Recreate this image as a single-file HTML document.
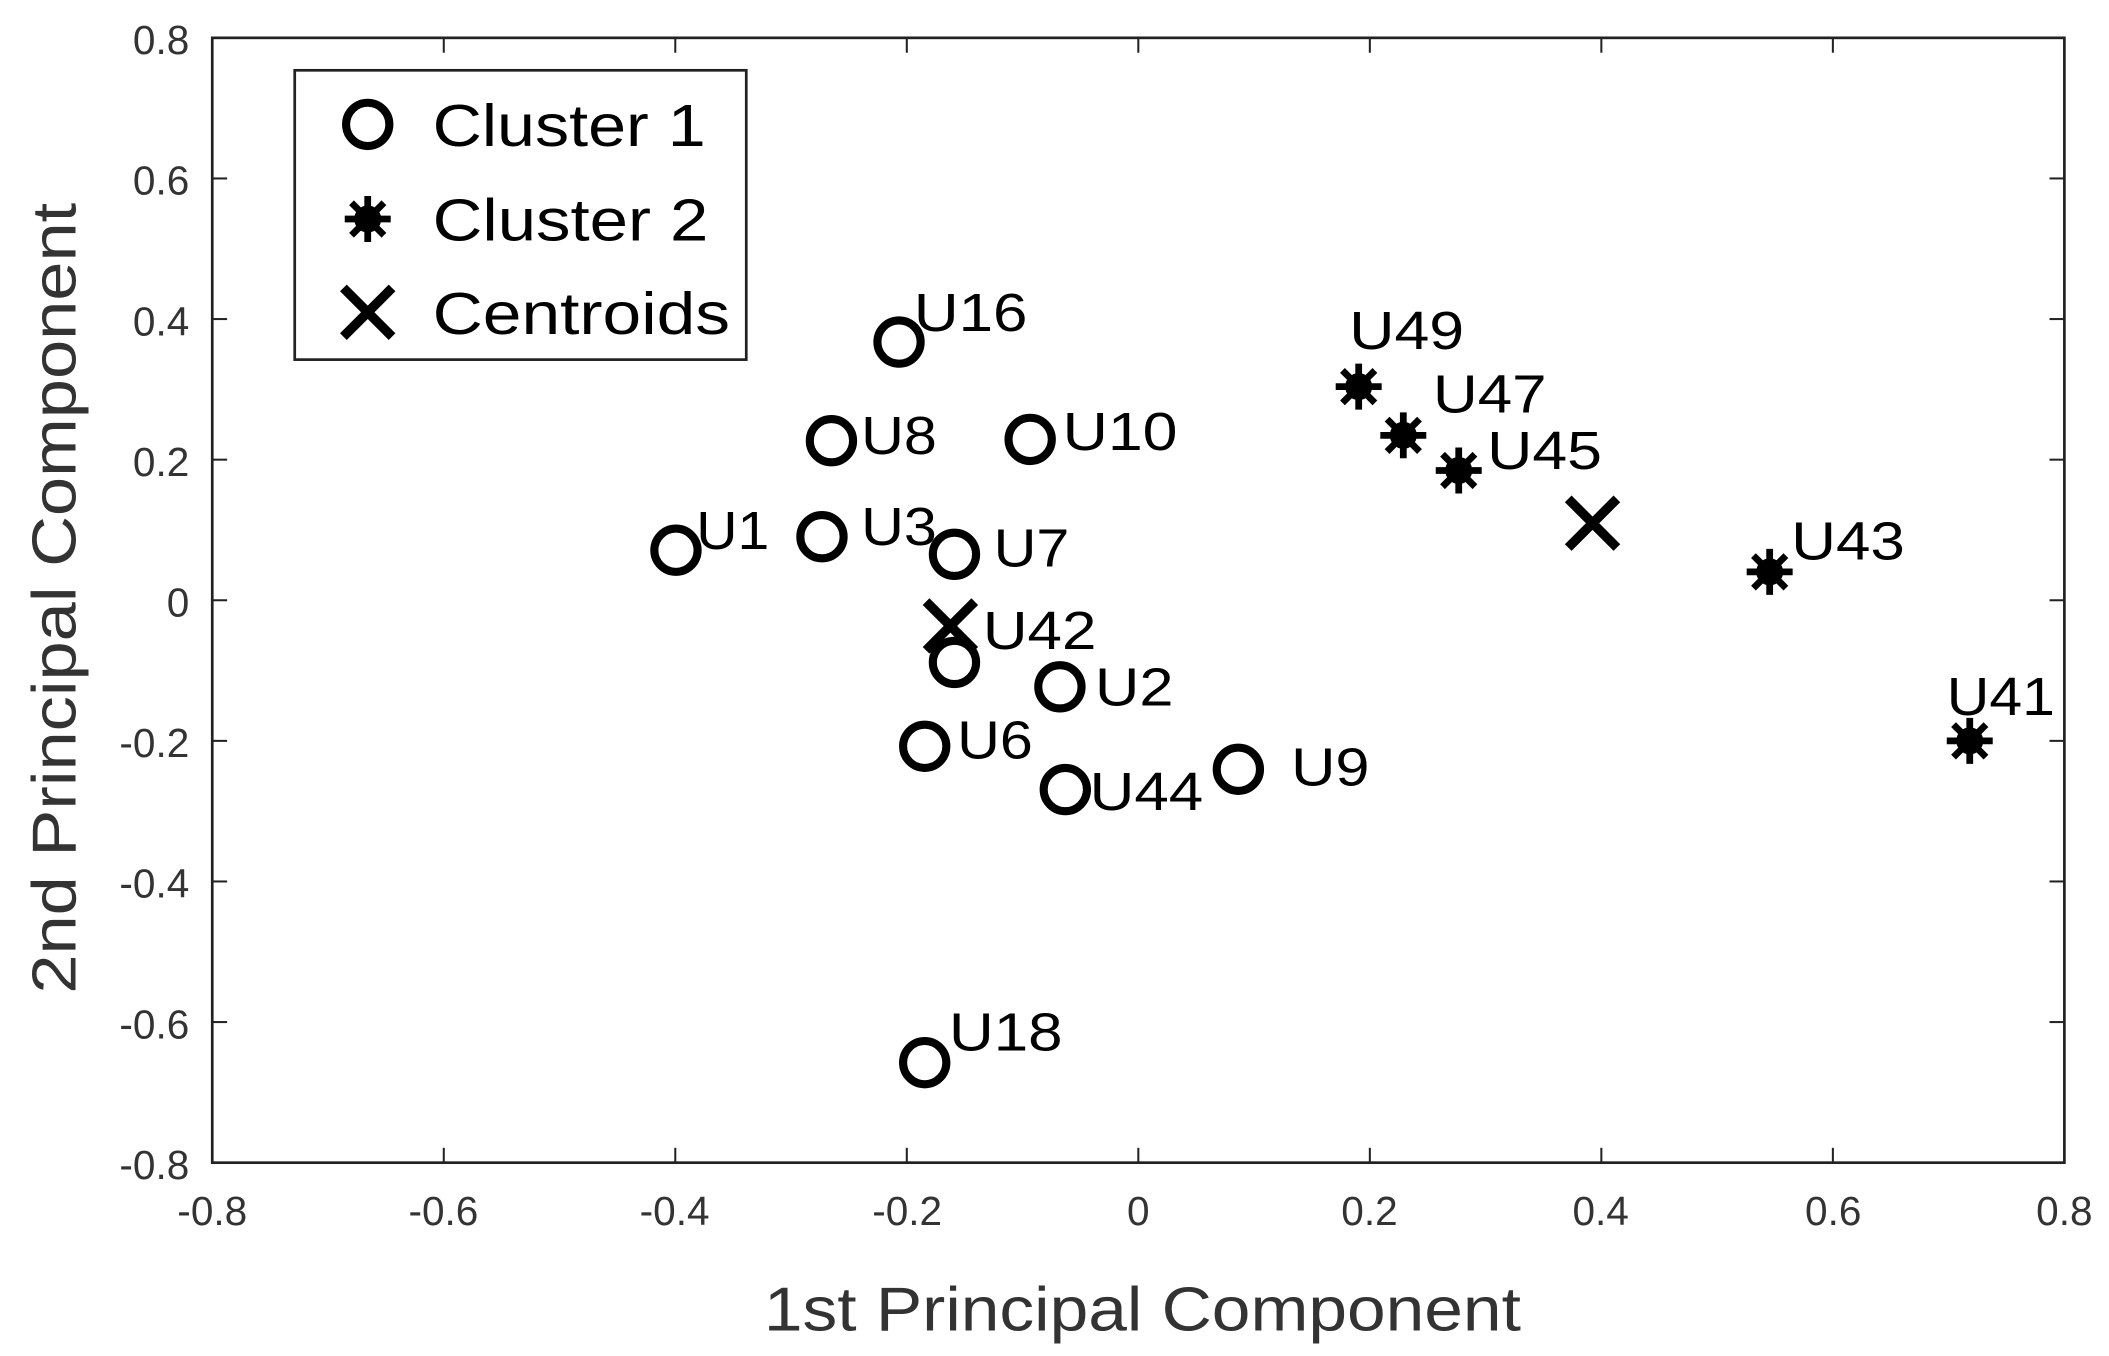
<!DOCTYPE html>
<html><head><style>html,body{margin:0;padding:0;background:#fff;}svg{display:block;}</style></head>
<body>
<svg width="2109" height="1356" viewBox="0 0 1560 1003" preserveAspectRatio="none" xmlns="http://www.w3.org/2000/svg" font-family="Liberation Sans, Arial, sans-serif">
<defs>
<g id="c"><circle r="16" fill="none" stroke="#000" stroke-width="6"/></g>
<g id="s" stroke="#000" stroke-width="5" stroke-linecap="butt"><line x1="0" y1="-17" x2="0" y2="17"/><line x1="-17" y1="0" x2="17" y2="0"/><line x1="-12" y1="-12" x2="12" y2="12"/><line x1="-12" y1="12" x2="12" y2="-12"/><circle r="10" fill="#000" stroke="none"/></g>
<g id="x" stroke="#000" stroke-width="7"><line x1="-18" y1="-18" x2="18" y2="18"/><line x1="-18" y1="18" x2="18" y2="-18"/></g>
</defs>
<rect x="0" y="0" width="1560" height="1003" fill="#fff"/>
<rect x="157" y="28" width="1370" height="832" fill="none" stroke="#222" stroke-width="2"/>
<g stroke="#222" stroke-width="1.5">
<line x1="328.25" y1="860" x2="328.25" y2="849"/><line x1="499.5" y1="860" x2="499.5" y2="849"/><line x1="670.75" y1="860" x2="670.75" y2="849"/><line x1="842" y1="860" x2="842" y2="849"/><line x1="1013.25" y1="860" x2="1013.25" y2="849"/><line x1="1184.5" y1="860" x2="1184.5" y2="849"/><line x1="1355.75" y1="860" x2="1355.75" y2="849"/>
<line x1="328.25" y1="28" x2="328.25" y2="39"/><line x1="499.5" y1="28" x2="499.5" y2="39"/><line x1="670.75" y1="28" x2="670.75" y2="39"/><line x1="842" y1="28" x2="842" y2="39"/><line x1="1013.25" y1="28" x2="1013.25" y2="39"/><line x1="1184.5" y1="28" x2="1184.5" y2="39"/><line x1="1355.75" y1="28" x2="1355.75" y2="39"/>
<line x1="157" y1="132" x2="168" y2="132"/><line x1="157" y1="236" x2="168" y2="236"/><line x1="157" y1="340" x2="168" y2="340"/><line x1="157" y1="444" x2="168" y2="444"/><line x1="157" y1="548" x2="168" y2="548"/><line x1="157" y1="652" x2="168" y2="652"/><line x1="157" y1="756" x2="168" y2="756"/>
<line x1="1527" y1="132" x2="1516" y2="132"/><line x1="1527" y1="236" x2="1516" y2="236"/><line x1="1527" y1="340" x2="1516" y2="340"/><line x1="1527" y1="444" x2="1516" y2="444"/><line x1="1527" y1="548" x2="1516" y2="548"/><line x1="1527" y1="652" x2="1516" y2="652"/><line x1="1527" y1="756" x2="1516" y2="756"/>
</g>
<g font-size="30" fill="#333" text-anchor="end">
<text x="140" y="40">0.8</text><text x="140" y="144">0.6</text><text x="140" y="248">0.4</text><text x="140" y="352">0.2</text><text x="140" y="456">0</text><text x="140" y="560">-0.2</text><text x="140" y="664">-0.4</text><text x="140" y="768">-0.6</text><text x="140" y="872">-0.8</text>
</g>
<g font-size="30" fill="#333" text-anchor="middle">
<text x="157" y="906">-0.8</text><text x="328" y="906">-0.6</text><text x="499" y="906">-0.4</text><text x="671" y="906">-0.2</text><text x="842" y="906">0</text><text x="1013" y="906">0.2</text><text x="1184" y="906">0.4</text><text x="1356" y="906">0.6</text><text x="1527" y="906">0.8</text>
</g>
<text x="565" y="984" font-size="46" fill="#333" textLength="560" lengthAdjust="spacingAndGlyphs">1st Principal Component</text>
<text transform="translate(56,735) rotate(-90)" font-size="46" fill="#333" textLength="585" lengthAdjust="spacingAndGlyphs">2nd Principal Component</text>
<rect x="218" y="52" width="334" height="214" fill="#fff" stroke="#222" stroke-width="2"/>
<use href="#c" x="272" y="92"/><use href="#s" x="272" y="162"/><use href="#x" x="272" y="231"/>
<g font-size="44" fill="#000"><text x="320" y="108" textLength="202" lengthAdjust="spacingAndGlyphs">Cluster 1</text><text x="320" y="178" textLength="204" lengthAdjust="spacingAndGlyphs">Cluster 2</text><text x="320" y="247" textLength="220" lengthAdjust="spacingAndGlyphs">Centroids</text></g>
<use href="#c" x="665" y="253"/><use href="#c" x="615" y="326"/><use href="#c" x="762" y="325"/><use href="#c" x="500" y="407"/><use href="#c" x="608" y="397"/><use href="#c" x="706" y="410"/><use href="#c" x="706" y="490"/><use href="#c" x="784" y="508"/><use href="#c" x="684" y="552"/><use href="#c" x="788" y="584"/><use href="#c" x="916" y="569"/><use href="#c" x="684" y="786"/>
<use href="#s" x="1005" y="286"/><use href="#s" x="1038" y="322"/><use href="#s" x="1079" y="348"/><use href="#s" x="1309" y="423"/><use href="#s" x="1457" y="548"/>
<use href="#x" x="1178" y="387"/><use href="#x" x="703" y="463"/>
<g font-size="40" fill="#000" lengthAdjust="spacingAndGlyphs">
<text x="676" y="245" textLength="84" lengthAdjust="spacingAndGlyphs">U16</text><text x="637" y="336" textLength="56" lengthAdjust="spacingAndGlyphs">U8</text><text x="786" y="333" textLength="85" lengthAdjust="spacingAndGlyphs">U10</text><text x="515" y="406" textLength="54" lengthAdjust="spacingAndGlyphs">U1</text><text x="637" y="403" textLength="56" lengthAdjust="spacingAndGlyphs">U3</text><text x="735" y="419" textLength="56" lengthAdjust="spacingAndGlyphs">U7</text><text x="727" y="480" textLength="84" lengthAdjust="spacingAndGlyphs">U42</text><text x="810" y="522" textLength="58" lengthAdjust="spacingAndGlyphs">U2</text><text x="708" y="561" textLength="56" lengthAdjust="spacingAndGlyphs">U6</text><text x="806" y="599" textLength="84" lengthAdjust="spacingAndGlyphs">U44</text><text x="955" y="581" textLength="58" lengthAdjust="spacingAndGlyphs">U9</text><text x="702" y="777" textLength="84" lengthAdjust="spacingAndGlyphs">U18</text>
<text x="998" y="258" textLength="85" lengthAdjust="spacingAndGlyphs">U49</text><text x="1060" y="305" textLength="84" lengthAdjust="spacingAndGlyphs">U47</text><text x="1100" y="347" textLength="85" lengthAdjust="spacingAndGlyphs">U45</text><text x="1325" y="414" textLength="84" lengthAdjust="spacingAndGlyphs">U43</text><text x="1440" y="529" textLength="80" lengthAdjust="spacingAndGlyphs">U41</text>
</g>
</svg>
</body></html>
